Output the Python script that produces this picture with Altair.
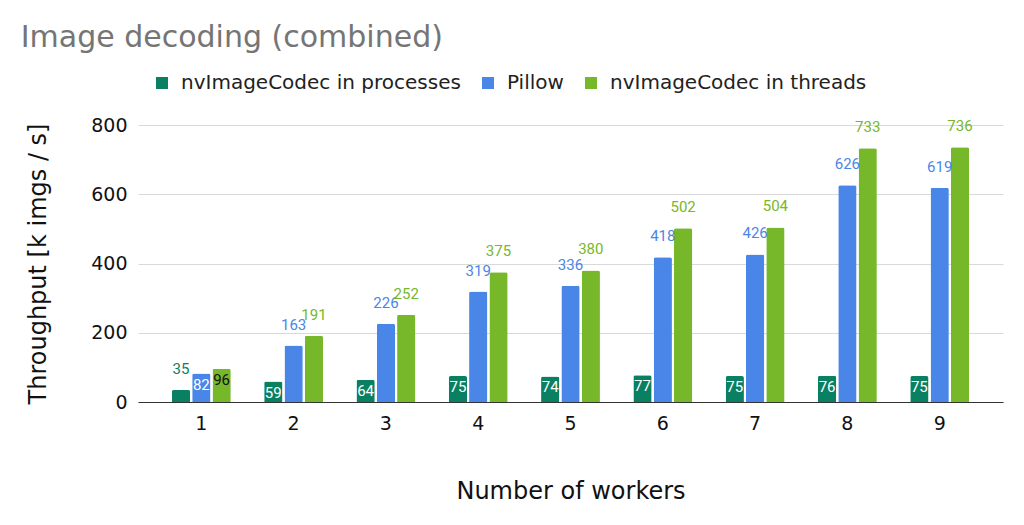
import altair as alt
import pandas as pd

workers = ["1", "2", "3", "4", "5", "6", "7", "8", "9"]
series_names = ["nvImageCodec in processes", "Pillow", "nvImageCodec in threads"]
processes = [35, 59, 64, 75, 74, 77, 75, 76, 75]
pillow = [82, 163, 226, 319, 336, 418, 426, 626, 619]
threads = [96, 191, 252, 375, 380, 502, 504, 733, 736]
y_ticks = [0, 200, 400, 600, 800]

rows = []
for s, vals in zip(series_names, [processes, pillow, threads]):
    for w, v in zip(workers, vals):
        rows.append({"workers": w, "series": s, "value": v})
df = pd.DataFrame(rows)

colors = ["#0a8062", "#4a86e8", "#76b82a"]
color_scale = alt.Scale(domain=series_names, range=colors)
AX_FONT = "DejaVu Sans"

x_enc = alt.X(
    "workers:N", sort=workers,
    scale=alt.Scale(paddingInner=0.362, paddingOuter=0.367),
    axis=alt.Axis(labelAngle=0, labelFontSize=19, labelFont=AX_FONT, labelColor="#111",
                  labelPadding=12, ticks=False, domainColor="#333", domainWidth=1,
                  titleFontSize=24, titleFont=AX_FONT, titleFontWeight="normal",
                  titleColor="#111", titlePadding=46, grid=False),
    title="Number of workers",
)
xoff = alt.XOffset("series:N", sort=series_names,
                   scale=alt.Scale(paddingInner=0.1, paddingOuter=0))
y_enc = alt.Y(
    "value:Q", scale=alt.Scale(domain=[0, 800], nice=False),
    axis=alt.Axis(values=y_ticks, labelFontSize=19, labelFont=AX_FONT, labelColor="#111",
                  labelPadding=11, ticks=False, domain=False, gridColor="#d9d9d9",
                  titleFontSize=24, titleFont=AX_FONT, titleFontWeight="normal",
                  titleColor="#111", titlePadding=40),
    title="Throughput [k imgs / s]",
)

base = alt.Chart(df).encode(x=x_enc, xOffset=xoff, y=y_enc)

bars = base.mark_bar(cornerRadiusTopLeft=2, cornerRadiusTopRight=2).encode(
    color=alt.Color(
        "series:N", scale=color_scale, sort=series_names,
        legend=alt.Legend(orient="none", legendX=14, legendY=-52, direction="horizontal",
                          title=None, symbolType="square", symbolSize=144,
                          symbolStrokeWidth=0, labelFontSize=20, labelFont=AX_FONT,
                          labelColor="#222", columnPadding=17, labelOffset=9,
                          labelLimit=500),
    )
)

above = base.transform_filter(
    "datum.value < 50 || datum.value > 100"
).mark_text(font="Roboto", fontSize=15, baseline="alphabetic", dy=-16).encode(
    text="value:Q",
    color=alt.Color("series:N", scale=color_scale, legend=None),
)

inside = base.transform_filter(
    "datum.value >= 50 && datum.value <= 100"
).mark_text(font="Roboto", fontSize=15, baseline="alphabetic", dy=16).encode(
    text="value:Q",
    color=alt.condition(f"datum.series == '{series_names[2]}'", alt.value("#111111"),
                        alt.value("#ffffff")),
)

chart = alt.layer(bars, above, inside).properties(
    width=865, height=277,
    autosize="none",
    padding={"left": 130, "top": 117, "right": 13, "bottom": 108},
    title=alt.TitleParams("Image decoding (combined)", anchor="start", fontSize=30,
                          font=AX_FONT, fontWeight="normal", color="#757575",
                          dx=-6, offset=20),
).configure_view(stroke=None)

chart.save("out.html", embed_options={"renderer": "svg", "actions": False})
